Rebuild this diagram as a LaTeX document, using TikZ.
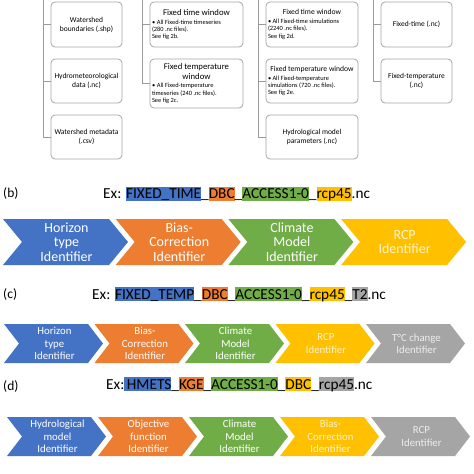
\documentclass[tikz,border=0pt]{standalone}
\usepackage{fontspec}
\setmainfont{Carlito}
\usetikzlibrary{calc}
\definecolor{cblue}{HTML}{4472C4}
\definecolor{corange}{HTML}{ED7D31}
\definecolor{cgreen}{HTML}{70AD47}
\definecolor{cyellow}{HTML}{FFC000}
\definecolor{cgray}{HTML}{A5A5A5}
\definecolor{boxline}{HTML}{A6A6A6}
\definecolor{connline}{HTML}{9A9A9A}
\newcommand{\hlbox}[2]{{\setlength{\fboxsep}{0pt}\colorbox{#1}{\rule[-0.14em]{0pt}{0.92em}#2}}}
\newcommand{\mychev}[9]{%
  \fill[#7] (#2,#3) -- ({#2+#4-#6},#3) -- ({#2+#4},{#3+#5/2}) -- ({#2+#4-#6},{#3+#5}) -- (#2,{#3+#5}) -- ({#2+#6},{#3+#5/2}) -- cycle;
  \node[#8] (#1) at ({#2+#4/2+1},{#3+#5/2}) {#9};}
\newcommand{\bulletbox}[5]{%
  \begin{minipage}{#1pt}\centering{\fontsize{#2}{9.5}\selectfont #3\par}\vspace{1.5pt}%
  \raggedright\fontsize{6.4}{7.3}\selectfont\hangindent=#4pt\hangafter=1\makebox[#4pt][l]{•}#5\par\end{minipage}}
\begin{document}
\begin{tikzpicture}[x=1pt,y=-1pt,
  box/.style={draw=boxline, rounded corners=4pt, line width=0.8pt, inner sep=0pt, align=center, font=\fontsize{7.5}{9}\selectfont},
  conn/.style={draw=connline, line width=0.8pt},
  exline/.style={anchor=base west, inner sep=0pt, font=\fontsize{15.3}{18}\selectfont},
  lab/.style={anchor=base west, inner sep=0pt, font=\fontsize{13.5}{16}\selectfont},
  chb/.style={align=center, inner sep=0pt, font=\fontsize{14}{14.5}\selectfont},
  chs/.style={align=center, inner sep=0pt, font=\fontsize{10.8}{12.3}\selectfont},
]
\fill[white] (0,0) rectangle (474,474);
\useasboundingbox (0,0) rectangle (474,474);

% ---------- top tree part ----------
\node[box, minimum width=71pt, minimum height=45pt] (a1) at (86.5,24.5) {Watershed\\boundaries (.shp)};
\node[box, minimum width=71pt, minimum height=44pt] (a2) at (86.5,81) {Hydrometeorological\\data (.nc)};
\node[box, minimum width=71pt, minimum height=44pt] (a3) at (86.5,137) {Watershed metadata\\(.csv)};

\node[box, minimum width=93pt, minimum height=45pt] (b1) at (196.5,24.5)
  {\bulletbox{89}{8.7}{Fixed time window}{5}{All Fixed-time timeseries\\(280 .nc files).\\See fig 2b.}};
\node[box, minimum width=93pt, minimum height=49pt] (b2) at (196.5,83.5)
  {\bulletbox{89}{8.7}{Fixed temperature\\window}{5}{All Fixed-temperature\\timeseries (240 .nc files).\\See fig 2c.}};

\node[box, minimum width=92pt, minimum height=45pt] (c1) at (312,24.5)
  {\bulletbox{88}{7.6}{Fixed time window}{4.5}{All Fixed-time simulations\\(2240 .nc files).\\See fig 2d.}};
\node[box, minimum width=92pt, minimum height=44pt] (c2) at (312,81)
  {\bulletbox{88}{7.6}{Fixed temperature window}{4.5}{All Fixed-temperature\\simulations (720 .nc files).\\See fig 2e.}};
\node[box, minimum width=92pt, minimum height=44pt] (c3) at (312,137) {Hydrological model\\parameters (.nc)};

\node[box, minimum width=71pt, minimum height=45pt] (d1) at (416.5,24.5) {Fixed-time (.nc)};
\node[box, minimum width=71pt, minimum height=44pt] (d2) at (416.5,81) {Fixed-temperature\\(.nc)};

\coordinate (ta) at (43,0);
\coordinate (tb) at (142,0);
\coordinate (tc) at (258,0);
\coordinate (td) at (373,0);
\draw[conn] (ta) |- (a1.west);
\draw[conn] (ta) |- (a2.west);
\draw[conn] (ta) |- (a3.west);
\draw[conn] (tb) |- (b1.west);
\draw[conn] (tb) |- (b2.west);
\draw[conn] (tc) |- (c1.west);
\draw[conn] (tc) |- (c2.west);
\draw[conn] (tc) |- (c3.west);
\draw[conn] (td) |- (d1.west);
\draw[conn] (td) |- (d2.west);

% ---------- (b) ----------
\node[lab] (labb) at (3,197) {(b)};
\node[exline] (exb) at (103,198.5) {Ex: \hlbox{cblue}{FIXED\_TIME}\_\hlbox{corange}{DBC}\_\hlbox{cgreen}{ACCESS1-0}\_\hlbox{cyellow}{rcp45}.nc};
\mychev{hb1}{3}{219}{125}{46}{19}{cblue}{chb, text=white}{Horizon\\type\\Identifier}
\mychev{hb2}{115.7}{219}{125}{46}{19}{corange}{chb, text=white}{Bias-\\Correction\\Identifier}
\mychev{hb3}{228.4}{219}{125}{46}{19}{cgreen}{chb, text=white}{Climate\\Model\\Identifier}
\mychev{hb4}{341.1}{219}{125}{46}{19}{cyellow}{chb, text=white!80!cyellow}{RCP\\Identifier}

% ---------- (c) ----------
\node[lab] (labc) at (3,298) {(c)};
\node[exline] (exc) at (92,299) {Ex: \hlbox{cblue}{FIXED\_TEMP}\_\hlbox{corange}{DBC}\_\hlbox{cgreen}{ACCESS1-0}\_\hlbox{cyellow}{rcp45}\_\hlbox{cgray}{T2}.nc};
\mychev{hc1}{4}{324}{99}{39}{15}{cblue}{chs, text=white}{Horizon\\type\\Identifier}
\mychev{hc2}{94.5}{324}{99}{39}{15}{corange}{chs, text=white}{Bias-\\Correction\\Identifier}
\mychev{hc3}{185}{324}{99}{39}{15}{cgreen}{chs, text=white}{Climate\\Model\\Identifier}
\mychev{hc4}{275.5}{324}{99}{39}{15}{cyellow}{chs, text=white!80!cyellow}{RCP\\Identifier}
\mychev{hc5}{366}{324}{99}{39}{15}{cgray}{chs, text=white!80!cgray}{T°C change\\Identifier}

% ---------- (d) ----------
\node[lab] (labd) at (3,390) {(d)};
\node[exline] (exd) at (106,389) {Ex:\hlbox{cblue}{\,HMETS}\_\hlbox{corange}{KGE}\_\hlbox{cgreen}{ACCESS1-0}\_\hlbox{cyellow}{DBC}\_\hlbox{cgray}{rcp45}.nc};
\mychev{hd1}{7}{417}{99}{39}{15}{cblue}{chs, text=white}{Hydrological\\model\\Identifier}
\mychev{hd2}{98}{417}{99}{39}{15}{corange}{chs, text=white}{Objective\\function\\Identifier}
\mychev{hd3}{189}{417}{99}{39}{15}{cgreen}{chs, text=white}{Climate\\Model\\Identifier}
\mychev{hd4}{280}{417}{99}{39}{15}{cyellow}{chs, text=white!80!cyellow}{Bias-\\Correction\\Identifier}
\mychev{hd5}{371}{417}{99}{39}{15}{cgray}{chs, text=white!80!cgray}{RCP\\Identifier}
\end{tikzpicture}
\end{document}
